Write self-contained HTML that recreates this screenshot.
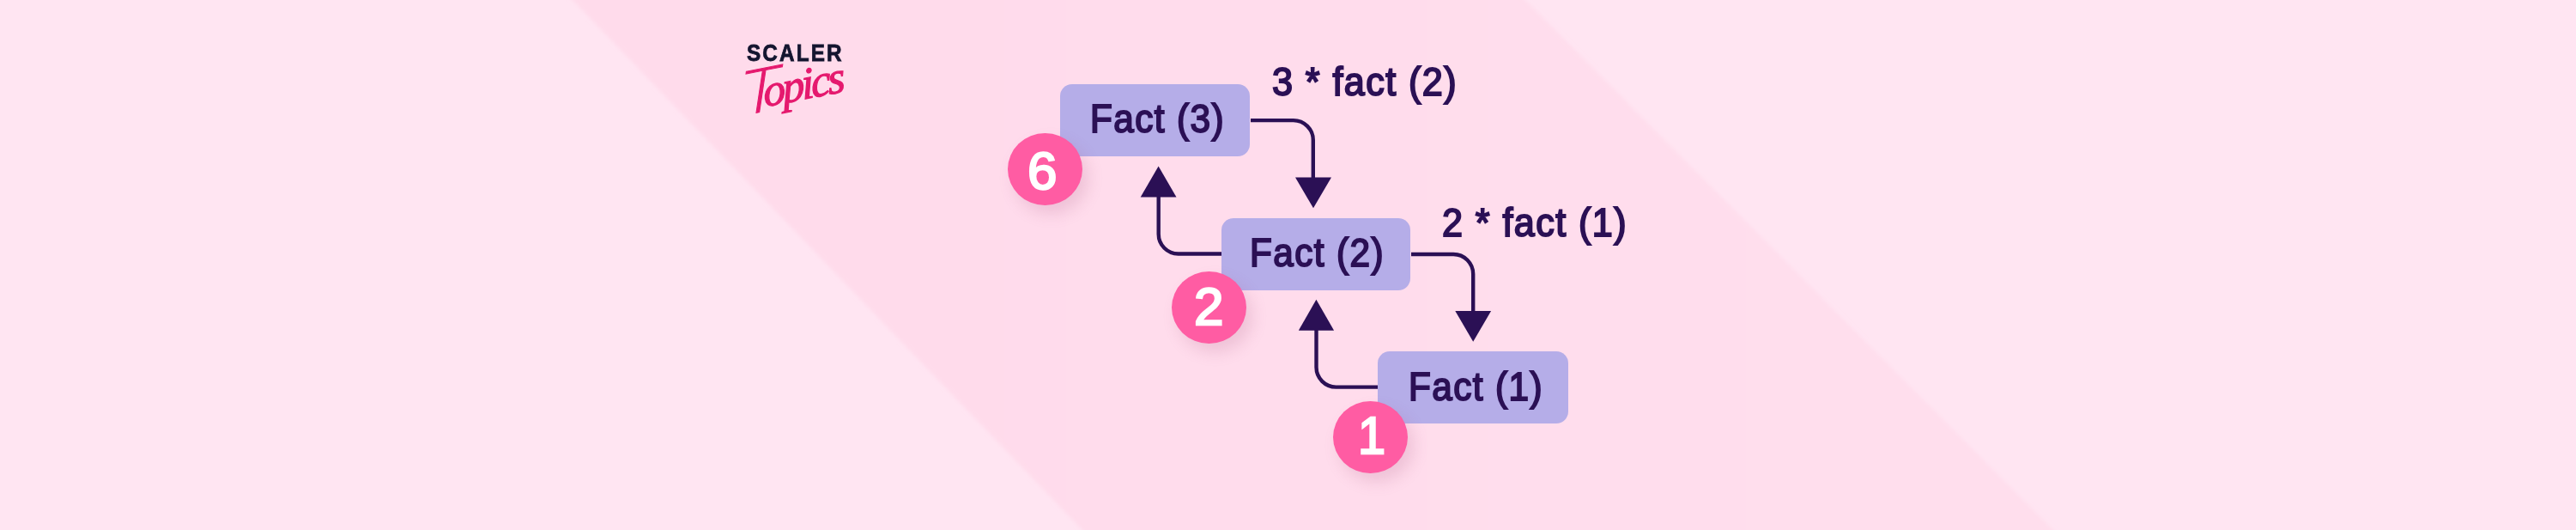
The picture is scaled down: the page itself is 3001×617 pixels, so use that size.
<!DOCTYPE html>
<html lang="en">
<head>
<meta charset="utf-8">
<title>Factorial recursion</title>
<style>
html,body{margin:0;padding:0;}
body{width:3001px;height:617px;overflow:hidden;position:relative;background:#ffe5f2;font-family:"Liberation Sans",sans-serif;}
#bg{position:absolute;left:0;top:0;width:3001px;height:617px;}
.box{position:absolute;background:#b5ade8;border-radius:14px;}
.t{position:absolute;color:#2b1055;font-weight:normal;-webkit-text-stroke:2px #2b1055;letter-spacing:1.5px;font-size:45.5px;line-height:48px;white-space:nowrap;transform-origin:left top;}
.circ{position:absolute;width:87.3px;height:84.4px;border-radius:50%;background:#ff5ca3;box-shadow:7px 10px 18px rgba(170,90,130,0.2);}
.n{position:absolute;color:#fff;font-weight:normal;-webkit-text-stroke:2.4px #fff;font-size:62px;line-height:65px;white-space:nowrap;transform-origin:left top;}
#scaler{position:absolute;left:870px;top:46.5px;font-weight:bold;font-size:27.5px;letter-spacing:2.4px;color:#14152f;line-height:30px;white-space:nowrap;transform-origin:left top;transform:scaleX(0.885);-webkit-text-stroke:0.8px #14152f;}
#topics{position:absolute;left:868.5px;top:77px;font-family:"Liberation Serif",serif;font-style:italic;font-size:52px;color:#e5196e;-webkit-text-stroke:1.2px #e5196e;line-height:1;white-space:nowrap;transform:rotate(-11deg) skewX(-6deg);transform-origin:left bottom;}
#topics .T{font-family:"DejaVu Sans Light","DejaVu Sans",sans-serif;font-weight:200;font-size:68px;font-style:normal;display:inline-block;transform:skewX(-14deg) scaleX(1.12);-webkit-text-stroke:1px #e5196e;}
#topics .r{margin-left:-18px;letter-spacing:-3.3px;position:relative;top:-5px;}
</style>
</head>
<body>
<svg id="bg" width="3001" height="617" viewBox="0 0 3001 617">
  <defs>
    <linearGradient id="band" gradientUnits="userSpaceOnUse" x1="960" y1="0" x2="2080" y2="0">
      <stop offset="0" stop-color="#ffdbeb"/>
      <stop offset="1" stop-color="#ffdeed"/>
    </linearGradient>
    <filter id="soft" x="-5%" y="-5%" width="110%" height="110%"><feGaussianBlur stdDeviation="2"/></filter>
  </defs>
  <rect width="3001" height="617" fill="#ffe5f2"/>
  <polygon points="618.9,-50 1727.2,-50 2441.8,667 1309.1,667" fill="url(#band)" filter="url(#soft)"/>
  <g fill="none" stroke="#2b1055" stroke-width="4.4">
    <path d="M1457 140.1 H1506.8 A23 23 0 0 1 1529.8 163.1 V210"/>
    <path d="M1644 296 H1693.2 A23 23 0 0 1 1716.2 319 V366"/>
    <path d="M1423.5 295.5 H1372.7 A23 23 0 0 1 1349.7 272.5 V226"/>
    <path d="M1605.5 450.6 H1556.5 A23 23 0 0 1 1533.5 427.6 V381"/>
  </g>
  <g fill="#2b1055">
    <polygon points="1509,206.4 1551,206.4 1530,242.3"/>
    <polygon points="1695.3,362 1737.1,362 1716.2,397.8"/>
    <polygon points="1328.7,229.5 1370.5,229.5 1349.6,193.5"/>
    <polygon points="1512.8,384.7 1554.1,384.7 1533.4,348.8"/>
  </g>
</svg>
<div id="scaler">SCALER</div>
<div id="topics"><span class="T">T</span><span class="r">opics</span></div>

<div class="box" style="left:1235px;top:98px;width:221px;height:84px;"></div>
<div class="box" style="left:1423px;top:254px;width:220px;height:84px;"></div>
<div class="box" style="left:1605px;top:409px;width:222px;height:84px;"></div>

<div class="t" id="f3" style="left:1270px;top:115.3px;transform:scaleX(0.93);">Fact (3)</div>
<div class="t" id="f2" style="left:1455.6px;top:271.3px;transform:scaleX(0.93);">Fact (2)</div>
<div class="t" id="f1" style="left:1641px;top:427.3px;transform:scaleX(0.93);">Fact (1)</div>
<div class="t" id="l1" style="left:1482px;top:71.8px;transform:scaleX(0.948);">3 * fact (2)</div>
<div class="t" id="l2" style="left:1680px;top:236.4px;transform:scaleX(0.948);">2 * fact (1)</div>

<div class="circ" style="left:1173.7px;top:155px;"></div>
<div class="circ" style="left:1364.5px;top:315.6px;"></div>
<div class="circ" style="left:1553.2px;top:466.6px;"></div>
<div class="n" id="n6" style="left:1197px;top:166px;">6</div>
<div class="n" id="n2" style="left:1391px;top:323.5px;">2</div>
<div class="n" id="n1" style="left:1582px;top:473.5px;transform:scaleX(0.93);">1</div>
</body>
</html>
